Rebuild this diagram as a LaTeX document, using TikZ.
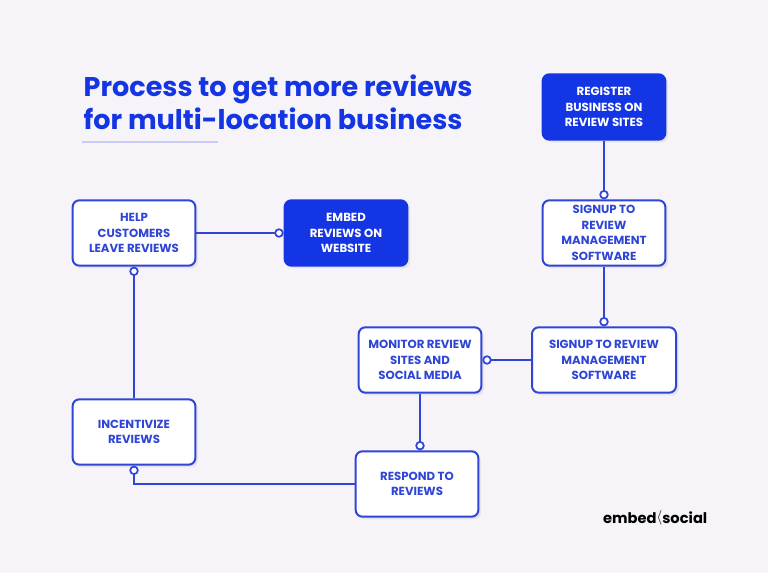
\documentclass[tikz,border=0pt]{standalone}
\usepackage{fontspec}
\setmainfont{Poppins}
\usetikzlibrary{arrows.meta,shadows}
\definecolor{brandblue}{HTML}{1435E3}
\definecolor{lineblue}{HTML}{2F45D6}
\definecolor{bgpaper}{HTML}{F6F3F9}
\begin{document}
\begin{tikzpicture}[x=0.75pt,y=-0.75pt,
                    step_box/.style={rectangle, rounded corners=5pt, draw=lineblue, line width=1.5pt, fill=white,
                      minimum width=92pt, minimum height=49pt, inner xsep=2pt, align=center, text=lineblue,
                      font=\fontsize{8.8}{11.6}\selectfont\bfseries, drop shadow={opacity=0.12, shadow xshift=2pt, shadow yshift=-2pt}},
                    key_box/.style={step_box, fill=brandblue, draw=brandblue, text=white},
                    link_style/.style={draw=lineblue, line width=1.5pt, -{Circle[open, fill=white, length=7pt, width=7pt, line width=1.3pt]}}]
                    \fill[bgpaper] (0,0) rectangle (768,573);
                    \node[anchor=west, text=brandblue, font=\fontsize{20.3}{25}\selectfont\bfseries, align=left] (title) at (79,102) {Process to get more reviews\\for multi-location business};
                    \draw[draw=black!12!blue!20, line width=1.5pt] (82,142) -- (218,142);
                    \node[key_box] (register) at (604,107) {REGISTER\\BUSINESS ON\\REVIEW SITES};
                    \node[step_box] (signup1) at (604,233) {SIGNUP TO\\REVIEW\\MANAGEMENT\\SOFTWARE};
                    \node[step_box, minimum width=108pt] (signup2) at (604,360) {SIGNUP TO REVIEW\\MANAGEMENT\\SOFTWARE};
                    \node[step_box] (monitor) at (420,360) {MONITOR REVIEW\\SITES AND\\SOCIAL MEDIA};
                    \node[step_box] (respond) at (417,484) {RESPOND TO\\REVIEWS};
                    \node[step_box] (incent) at (134,432) {INCENTIVIZE\\REVIEWS};
                    \node[step_box] (help) at (134,233) {HELP\\CUSTOMERS\\LEAVE REVIEWS};
                    \node[key_box] (embed) at (346,233) {EMBED\\REVIEWS ON\\WEBSITE};
                    \node[anchor=east, font=\fontsize{11}{13}\selectfont\bfseries] (logo) at (712,518) {embed\raisebox{0.2ex}{$\langle$}social};
                    \draw[link_style] (register) -- (signup1);
                    \draw[link_style] (signup1) -- (signup2);
                    \draw[link_style] (signup2) -- (monitor);
                    \draw[link_style] (monitor.south) -- (monitor.south |- respond.north);
                    \draw[link_style] (respond.west) -| (incent.south);
                    \draw[link_style] (incent) -- (help);
                    \draw[link_style] (help) -- (embed);
\end{tikzpicture}
\end{document}
